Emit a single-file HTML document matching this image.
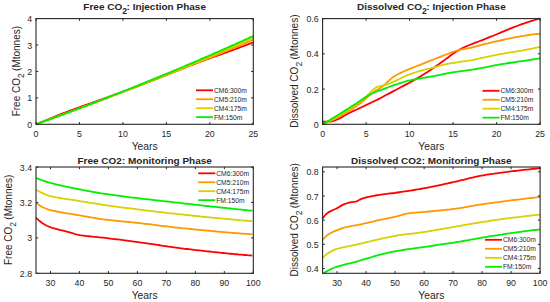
<!DOCTYPE html>
<html><head><meta charset="utf-8"><style>
html,body{margin:0;padding:0;background:#fff;width:550px;height:302px;overflow:hidden}
svg{display:block}
text{font-family:"Liberation Sans",sans-serif;fill:#262626}
</style></head><body>
<svg width="550" height="302" viewBox="0 0 550 302">
<rect width="550" height="302" fill="#fff"/>
<clipPath id="c0"><rect x="36" y="17.6" width="218.3" height="107.69999999999999"/></clipPath>
<g clip-path="url(#c0)" fill="none" stroke-width="1.8" stroke-linejoin="round" stroke-linecap="butt">
<path d="M36.00,124.30 L37.83,123.52 L39.65,122.75 L41.48,121.98 L43.30,121.22 L45.13,120.46 L46.96,119.71 L48.78,118.96 L50.61,118.22 L52.43,117.48 L54.26,116.75 L56.09,116.02 L57.91,115.30 L59.74,114.59 L61.56,113.88 L63.39,113.17 L65.22,112.47 L67.04,111.78 L68.87,111.09 L70.69,110.42 L72.52,109.75 L74.35,109.08 L76.17,108.43 L78.00,107.77 L79.83,107.12 L81.65,106.47 L83.48,105.82 L85.30,105.17 L87.13,104.53 L88.96,103.88 L90.78,103.23 L92.61,102.57 L94.43,101.92 L96.26,101.26 L98.09,100.60 L99.91,99.94 L101.74,99.29 L103.56,98.63 L105.39,97.98 L107.22,97.33 L109.04,96.68 L110.87,96.02 L112.69,95.37 L114.52,94.72 L116.35,94.06 L118.17,93.41 L120.00,92.75 L121.82,92.09 L123.65,91.43 L125.48,90.77 L127.30,90.10 L129.13,89.43 L130.95,88.76 L132.78,88.09 L134.61,87.41 L136.43,86.72 L138.26,86.04 L140.08,85.34 L141.91,84.64 L143.74,83.93 L145.56,83.22 L147.39,82.51 L149.22,81.79 L151.04,81.07 L152.87,80.35 L154.69,79.62 L156.52,78.90 L158.35,78.18 L160.17,77.45 L162.00,76.73 L163.82,76.02 L165.65,75.30 L167.48,74.59 L169.30,73.88 L171.13,73.16 L172.95,72.45 L174.78,71.73 L176.61,71.01 L178.43,70.29 L180.26,69.57 L182.08,68.86 L183.91,68.14 L185.74,67.42 L187.56,66.71 L189.39,65.99 L191.21,65.28 L193.04,64.57 L194.87,63.87 L196.69,63.16 L198.52,62.47 L200.34,61.77 L202.17,61.08 L204.00,60.39 L205.82,59.71 L207.65,59.04 L209.47,58.37 L211.30,57.71 L213.13,57.07 L214.95,56.43 L216.78,55.80 L218.61,55.18 L220.43,54.55 L222.26,53.91 L224.08,53.27 L225.91,52.61 L227.74,51.95 L229.56,51.28 L231.39,50.61 L233.21,49.93 L235.04,49.26 L236.87,48.58 L238.69,47.89 L240.52,47.20 L242.34,46.51 L244.17,45.81 L246.00,45.11 L247.82,44.40 L249.65,43.69 L251.47,42.97 L253.30,42.25" stroke="#ff0000"/>
<path d="M36.00,124.30 L37.83,123.64 L39.65,122.99 L41.48,122.33 L43.30,121.67 L45.13,121.01 L46.96,120.35 L48.78,119.69 L50.61,119.03 L52.43,118.37 L54.26,117.70 L56.09,117.04 L57.91,116.37 L59.74,115.71 L61.56,115.04 L63.39,114.37 L65.22,113.70 L67.04,113.03 L68.87,112.36 L70.69,111.69 L72.52,111.01 L74.35,110.34 L76.17,109.66 L78.00,108.99 L79.83,108.31 L81.65,107.63 L83.48,106.95 L85.30,106.27 L87.13,105.59 L88.96,104.91 L90.78,104.23 L92.61,103.54 L94.43,102.86 L96.26,102.17 L98.09,101.49 L99.91,100.80 L101.74,100.11 L103.56,99.42 L105.39,98.73 L107.22,98.04 L109.04,97.35 L110.87,96.66 L112.69,95.96 L114.52,95.27 L116.35,94.57 L118.17,93.88 L120.00,93.18 L121.82,92.48 L123.65,91.78 L125.48,91.08 L127.30,90.38 L129.13,89.68 L130.95,88.97 L132.78,88.27 L134.61,87.57 L136.43,86.86 L138.26,86.15 L140.08,85.45 L141.91,84.74 L143.74,84.03 L145.56,83.32 L147.39,82.60 L149.22,81.89 L151.04,81.18 L152.87,80.46 L154.69,79.75 L156.52,79.03 L158.35,78.32 L160.17,77.60 L162.00,76.88 L163.82,76.16 L165.65,75.44 L167.48,74.72 L169.30,73.99 L171.13,73.27 L172.95,72.55 L174.78,71.82 L176.61,71.09 L178.43,70.37 L180.26,69.64 L182.08,68.91 L183.91,68.18 L185.74,67.45 L187.56,66.72 L189.39,65.98 L191.21,65.25 L193.04,64.51 L194.87,63.78 L196.69,63.04 L198.52,62.30 L200.34,61.56 L202.17,60.83 L204.00,60.08 L205.82,59.34 L207.65,58.60 L209.47,57.86 L211.30,57.11 L213.13,56.37 L214.95,55.62 L216.78,54.88 L218.61,54.13 L220.43,53.38 L222.26,52.63 L224.08,51.88 L225.91,51.13 L227.74,50.37 L229.56,49.62 L231.39,48.87 L233.21,48.11 L235.04,47.35 L236.87,46.60 L238.69,45.84 L240.52,45.08 L242.34,44.32 L244.17,43.56 L246.00,42.80 L247.82,42.03 L249.65,41.27 L251.47,40.51 L253.30,39.74" stroke="#ff9900"/>
<path d="M36.00,124.30 L37.83,123.64 L39.65,122.99 L41.48,122.33 L43.30,121.67 L45.13,121.01 L46.96,120.35 L48.78,119.69 L50.61,119.02 L52.43,118.36 L54.26,117.69 L56.09,117.02 L57.91,116.35 L59.74,115.68 L61.56,115.01 L63.39,114.34 L65.22,113.67 L67.04,112.99 L68.87,112.32 L70.69,111.64 L72.52,110.96 L74.35,110.28 L76.17,109.60 L78.00,108.92 L79.83,108.23 L81.65,107.55 L83.48,106.86 L85.30,106.18 L87.13,105.49 L88.96,104.80 L90.78,104.11 L92.61,103.42 L94.43,102.73 L96.26,102.03 L98.09,101.34 L99.91,100.64 L101.74,99.94 L103.56,99.24 L105.39,98.54 L107.22,97.84 L109.04,97.14 L110.87,96.44 L112.69,95.73 L114.52,95.03 L116.35,94.32 L118.17,93.61 L120.00,92.90 L121.82,92.19 L123.65,91.48 L125.48,90.77 L127.30,90.05 L129.13,89.34 L130.95,88.62 L132.78,87.90 L134.61,87.18 L136.43,86.46 L138.26,85.74 L140.08,85.02 L141.91,84.30 L143.74,83.57 L145.56,82.85 L147.39,82.12 L149.22,81.39 L151.04,80.66 L152.87,79.93 L154.69,79.20 L156.52,78.46 L158.35,77.73 L160.17,76.99 L162.00,76.26 L163.82,75.52 L165.65,74.78 L167.48,74.04 L169.30,73.30 L171.13,72.55 L172.95,71.81 L174.78,71.07 L176.61,70.32 L178.43,69.57 L180.26,68.82 L182.08,68.07 L183.91,67.32 L185.74,66.57 L187.56,65.82 L189.39,65.06 L191.21,64.30 L193.04,63.55 L194.87,62.79 L196.69,62.03 L198.52,61.27 L200.34,60.51 L202.17,59.74 L204.00,58.98 L205.82,58.21 L207.65,57.45 L209.47,56.68 L211.30,55.91 L213.13,55.14 L214.95,54.37 L216.78,53.60 L218.61,52.82 L220.43,52.05 L222.26,51.27 L224.08,50.49 L225.91,49.71 L227.74,48.93 L229.56,48.15 L231.39,47.37 L233.21,46.59 L235.04,45.80 L236.87,45.02 L238.69,44.23 L240.52,43.44 L242.34,42.65 L244.17,41.86 L246.00,41.07 L247.82,40.28 L249.65,39.48 L251.47,38.69 L253.30,37.89" stroke="#d9d000"/>
<path d="M36.00,124.30 L37.83,123.64 L39.65,122.99 L41.48,122.33 L43.30,121.67 L45.13,121.01 L46.96,120.34 L48.78,119.68 L50.61,119.01 L52.43,118.35 L54.26,117.68 L56.09,117.01 L57.91,116.33 L59.74,115.66 L61.56,114.99 L63.39,114.31 L65.22,113.63 L67.04,112.95 L68.87,112.27 L70.69,111.59 L72.52,110.91 L74.35,110.22 L76.17,109.54 L78.00,108.85 L79.83,108.16 L81.65,107.47 L83.48,106.78 L85.30,106.08 L87.13,105.39 L88.96,104.69 L90.78,103.99 L92.61,103.29 L94.43,102.59 L96.26,101.89 L98.09,101.19 L99.91,100.48 L101.74,99.77 L103.56,99.07 L105.39,98.36 L107.22,97.65 L109.04,96.93 L110.87,96.22 L112.69,95.50 L114.52,94.79 L116.35,94.07 L118.17,93.35 L120.00,92.63 L121.82,91.90 L123.65,91.18 L125.48,90.45 L127.30,89.73 L129.13,89.00 L130.95,88.27 L132.78,87.54 L134.61,86.80 L136.43,86.07 L138.26,85.33 L140.08,84.60 L141.91,83.86 L143.74,83.12 L145.56,82.38 L147.39,81.63 L149.22,80.89 L151.04,80.14 L152.87,79.39 L154.69,78.65 L156.52,77.90 L158.35,77.14 L160.17,76.39 L162.00,75.64 L163.82,74.88 L165.65,74.12 L167.48,73.36 L169.30,72.60 L171.13,71.84 L172.95,71.08 L174.78,70.31 L176.61,69.54 L178.43,68.78 L180.26,68.01 L182.08,67.24 L183.91,66.46 L185.74,65.69 L187.56,64.92 L189.39,64.14 L191.21,63.36 L193.04,62.58 L194.87,61.80 L196.69,61.02 L198.52,60.23 L200.34,59.45 L202.17,58.66 L204.00,57.87 L205.82,57.08 L207.65,56.29 L209.47,55.50 L211.30,54.71 L213.13,53.91 L214.95,53.11 L216.78,52.31 L218.61,51.52 L220.43,50.71 L222.26,49.91 L224.08,49.11 L225.91,48.30 L227.74,47.49 L229.56,46.69 L231.39,45.88 L233.21,45.06 L235.04,44.25 L236.87,43.44 L238.69,42.62 L240.52,41.80 L242.34,40.98 L244.17,40.16 L246.00,39.34 L247.82,38.52 L249.65,37.69 L251.47,36.87 L253.30,36.04" stroke="#00ee00"/>
</g>
<rect x="36" y="18.6" width="217.3" height="105.69999999999999" fill="none" stroke="#262626" stroke-width="1.1"/>
<text x="36.00" y="136.5" text-anchor="middle" font-size="8.8">0</text>
<text x="79.46" y="136.5" text-anchor="middle" font-size="8.8">5</text>
<text x="122.92" y="136.5" text-anchor="middle" font-size="8.8">10</text>
<text x="166.38" y="136.5" text-anchor="middle" font-size="8.8">15</text>
<text x="209.84" y="136.5" text-anchor="middle" font-size="8.8">20</text>
<text x="253.30" y="136.5" text-anchor="middle" font-size="8.8">25</text>
<text x="32.1" y="127.90" text-anchor="end" font-size="8.8">0</text>
<text x="32.1" y="101.47" text-anchor="end" font-size="8.8">1</text>
<text x="32.1" y="75.05" text-anchor="end" font-size="8.8">2</text>
<text x="32.1" y="48.63" text-anchor="end" font-size="8.8">3</text>
<text x="32.1" y="22.20" text-anchor="end" font-size="8.8">4</text>
<path d="M36.00,124.3 v-2.2 M36.00,18.6 v2.2 M79.46,124.3 v-2.2 M79.46,18.6 v2.2 M122.92,124.3 v-2.2 M122.92,18.6 v2.2 M166.38,124.3 v-2.2 M166.38,18.6 v2.2 M209.84,124.3 v-2.2 M209.84,18.6 v2.2 M253.30,124.3 v-2.2 M253.30,18.6 v2.2 M36,124.30 h2.2 M253.3,124.30 h-2.2 M36,97.88 h2.2 M253.3,97.88 h-2.2 M36,71.45 h2.2 M253.3,71.45 h-2.2 M36,45.03 h2.2 M253.3,45.03 h-2.2 M36,18.60 h2.2 M253.3,18.60 h-2.2" stroke="#262626" stroke-width="1" fill="none"/>
<text x="144.65" y="149.9" text-anchor="middle" font-size="10.3">Years</text>
<text transform="translate(19.8,71.15) rotate(-90)" x="0" y="0" text-anchor="middle" font-size="10.0">Free CO<tspan font-size="8.6" dy="4.5">2</tspan><tspan dy="-4.5" dx="-0.5"> (Mtonnes)</tspan></text>
<text transform="translate(144.65,10.10) scale(1,0.97)" x="0" y="0" text-anchor="middle" font-size="10.0" font-weight="bold" fill="#000">Free CO<tspan font-size="8.6" dy="4.5">2</tspan><tspan dy="-4.5" dx="-0.5">: Injection Phase</tspan></text>
<path d="M196,90.30 h17" stroke="#ff0000" stroke-width="1.8"/>
<text x="213.9" y="92.80" font-size="6.75">CM6:300m</text>
<path d="M196,99.25 h17" stroke="#ff9900" stroke-width="1.8"/>
<text x="213.9" y="101.75" font-size="6.75">CM5:210m</text>
<path d="M196,108.20 h17" stroke="#d9d000" stroke-width="1.8"/>
<text x="213.9" y="110.70" font-size="6.75">CM4:175m</text>
<path d="M196,117.15 h17" stroke="#00ee00" stroke-width="1.8"/>
<text x="213.9" y="119.65" font-size="6.75">FM:150m</text>
<clipPath id="c1"><rect x="322.6" y="17.6" width="218.5" height="107.69999999999999"/></clipPath>
<g clip-path="url(#c1)" fill="none" stroke-width="1.8" stroke-linejoin="round" stroke-linecap="butt">
<path d="M322.60,121.75 L324.43,121.75 L326.26,121.75 L328.08,121.75 L329.91,121.67 L331.74,121.38 L333.57,120.91 L335.39,120.27 L337.22,119.50 L339.05,118.62 L340.88,117.65 L342.71,116.64 L344.53,115.59 L346.36,114.55 L348.19,113.53 L350.02,112.57 L351.84,111.69 L353.67,110.86 L355.50,110.03 L357.33,109.20 L359.15,108.36 L360.98,107.51 L362.81,106.65 L364.64,105.79 L366.47,104.93 L368.29,104.05 L370.12,103.17 L371.95,102.29 L373.78,101.39 L375.60,100.49 L377.43,99.58 L379.26,98.66 L381.09,97.72 L382.92,96.77 L384.74,95.81 L386.57,94.83 L388.40,93.86 L390.23,92.87 L392.05,91.89 L393.88,90.91 L395.71,89.93 L397.54,88.96 L399.36,88.00 L401.19,87.04 L403.02,86.08 L404.85,85.12 L406.68,84.15 L408.50,83.17 L410.33,82.17 L412.16,81.16 L413.99,80.13 L415.81,79.08 L417.64,78.01 L419.47,76.92 L421.30,75.82 L423.13,74.70 L424.95,73.56 L426.78,72.41 L428.61,71.23 L430.44,70.04 L432.26,68.83 L434.09,67.60 L435.92,66.31 L437.75,65.00 L439.57,63.65 L441.40,62.30 L443.23,60.95 L445.06,59.62 L446.89,58.29 L448.71,56.93 L450.54,55.58 L452.37,54.25 L454.20,52.99 L456.02,51.81 L457.85,50.70 L459.68,49.64 L461.51,48.64 L463.34,47.69 L465.16,46.80 L466.99,45.99 L468.82,45.24 L470.65,44.52 L472.47,43.81 L474.30,43.10 L476.13,42.40 L477.96,41.72 L479.78,41.02 L481.61,40.32 L483.44,39.61 L485.27,38.89 L487.10,38.17 L488.92,37.44 L490.75,36.71 L492.58,35.98 L494.41,35.24 L496.23,34.49 L498.06,33.72 L499.89,32.95 L501.72,32.18 L503.55,31.40 L505.37,30.64 L507.20,29.88 L509.03,29.14 L510.86,28.40 L512.68,27.66 L514.51,26.94 L516.34,26.22 L518.17,25.53 L519.99,24.86 L521.82,24.22 L523.65,23.58 L525.48,22.96 L527.31,22.34 L529.13,21.74 L530.96,21.15 L532.79,20.57 L534.62,20.01 L536.44,19.47 L538.27,18.94 L540.10,18.42" stroke="#ff0000"/>
<path d="M322.60,124.30 L324.43,123.59 L326.26,122.84 L328.08,122.05 L329.91,121.22 L331.74,120.36 L333.57,119.47 L335.39,118.54 L337.22,117.59 L339.05,116.61 L340.88,115.61 L342.71,114.58 L344.53,113.53 L346.36,112.46 L348.19,111.38 L350.02,110.28 L351.84,109.16 L353.67,108.01 L355.50,106.79 L357.33,105.51 L359.15,104.18 L360.98,102.79 L362.81,101.35 L364.64,99.77 L366.47,98.09 L368.29,96.41 L370.12,94.80 L371.95,93.34 L373.78,92.03 L375.60,90.81 L377.43,89.64 L379.26,88.47 L381.09,87.26 L382.92,85.98 L384.74,84.57 L386.57,82.91 L388.40,81.09 L390.23,79.34 L392.05,77.89 L393.88,76.60 L395.71,75.46 L397.54,74.43 L399.36,73.49 L401.19,72.61 L403.02,71.78 L404.85,70.99 L406.68,70.20 L408.50,69.42 L410.33,68.66 L412.16,67.92 L413.99,67.19 L415.81,66.48 L417.64,65.78 L419.47,65.07 L421.30,64.35 L423.13,63.62 L424.95,62.89 L426.78,62.16 L428.61,61.43 L430.44,60.70 L432.26,59.97 L434.09,59.25 L435.92,58.52 L437.75,57.80 L439.57,57.08 L441.40,56.37 L443.23,55.66 L445.06,54.97 L446.89,54.28 L448.71,53.56 L450.54,52.84 L452.37,52.15 L454.20,51.48 L456.02,50.87 L457.85,50.33 L459.68,49.87 L461.51,49.47 L463.34,49.12 L465.16,48.80 L466.99,48.48 L468.82,48.15 L470.65,47.80 L472.47,47.40 L474.30,46.94 L476.13,46.45 L477.96,45.94 L479.78,45.43 L481.61,44.94 L483.44,44.47 L485.27,43.99 L487.10,43.52 L488.92,43.05 L490.75,42.60 L492.58,42.15 L494.41,41.72 L496.23,41.31 L498.06,40.91 L499.89,40.51 L501.72,40.13 L503.55,39.75 L505.37,39.37 L507.20,38.99 L509.03,38.60 L510.86,38.22 L512.68,37.84 L514.51,37.46 L516.34,37.10 L518.17,36.76 L519.99,36.44 L521.82,36.13 L523.65,35.84 L525.48,35.55 L527.31,35.26 L529.13,34.99 L530.96,34.73 L532.79,34.47 L534.62,34.23 L536.44,34.00 L538.27,33.78 L540.10,33.57" stroke="#ff9900"/>
<path d="M322.60,124.30 L324.43,123.44 L326.26,122.55 L328.08,121.63 L329.91,120.68 L331.74,119.70 L333.57,118.68 L335.39,117.65 L337.22,116.58 L339.05,115.49 L340.88,114.38 L342.71,113.25 L344.53,112.10 L346.36,110.93 L348.19,109.74 L350.02,108.54 L351.84,107.32 L353.67,106.07 L355.50,104.75 L357.33,103.39 L359.15,101.98 L360.98,100.54 L362.81,99.09 L364.64,97.63 L366.47,96.17 L368.29,94.53 L370.12,92.74 L371.95,90.93 L373.78,89.25 L375.60,87.83 L377.43,86.82 L379.26,86.26 L381.09,85.90 L382.92,85.58 L384.74,85.16 L386.57,84.59 L388.40,83.90 L390.23,83.13 L392.05,82.31 L393.88,81.47 L395.71,80.63 L397.54,79.82 L399.36,78.95 L401.19,78.05 L403.02,77.15 L404.85,76.27 L406.68,75.45 L408.50,74.72 L410.33,74.05 L412.16,73.42 L413.99,72.82 L415.81,72.25 L417.64,71.70 L419.47,71.17 L421.30,70.66 L423.13,70.16 L424.95,69.68 L426.78,69.23 L428.61,68.79 L430.44,68.35 L432.26,67.90 L434.09,67.42 L435.92,66.92 L437.75,66.39 L439.57,65.87 L441.40,65.35 L443.23,64.87 L445.06,64.45 L446.89,64.07 L448.71,63.73 L450.54,63.40 L452.37,63.09 L454.20,62.80 L456.02,62.51 L457.85,62.23 L459.68,61.95 L461.51,61.69 L463.34,61.44 L465.16,61.20 L466.99,60.96 L468.82,60.70 L470.65,60.42 L472.47,60.10 L474.30,59.72 L476.13,59.30 L477.96,58.85 L479.78,58.40 L481.61,57.99 L483.44,57.60 L485.27,57.20 L487.10,56.81 L488.92,56.43 L490.75,56.05 L492.58,55.67 L494.41,55.30 L496.23,54.94 L498.06,54.58 L499.89,54.24 L501.72,53.90 L503.55,53.57 L505.37,53.26 L507.20,52.96 L509.03,52.67 L510.86,52.39 L512.68,52.10 L514.51,51.81 L516.34,51.52 L518.17,51.21 L519.99,50.89 L521.82,50.55 L523.65,50.21 L525.48,49.86 L527.31,49.50 L529.13,49.13 L530.96,48.76 L532.79,48.38 L534.62,47.99 L536.44,47.60 L538.27,47.19 L540.10,46.79" stroke="#d9d000"/>
<path d="M322.60,124.30 L324.43,123.21 L326.26,122.11 L328.08,121.01 L329.91,119.90 L331.74,118.79 L333.57,117.67 L335.39,116.55 L337.22,115.42 L339.05,114.29 L340.88,113.15 L342.71,112.01 L344.53,110.87 L346.36,109.72 L348.19,108.57 L350.02,107.42 L351.84,106.26 L353.67,105.08 L355.50,103.88 L357.33,102.66 L359.15,101.44 L360.98,100.21 L362.81,99.00 L364.64,97.81 L366.47,96.65 L368.29,95.53 L370.12,94.46 L371.95,93.53 L373.78,92.72 L375.60,91.98 L377.43,91.28 L379.26,90.61 L381.09,89.95 L382.92,89.29 L384.74,88.60 L386.57,87.90 L388.40,87.22 L390.23,86.53 L392.05,85.87 L393.88,85.22 L395.71,84.59 L397.54,83.99 L399.36,83.39 L401.19,82.80 L403.02,82.24 L404.85,81.70 L406.68,81.19 L408.50,80.74 L410.33,80.32 L412.16,79.93 L413.99,79.56 L415.81,79.21 L417.64,78.87 L419.47,78.53 L421.30,78.20 L423.13,77.87 L424.95,77.56 L426.78,77.25 L428.61,76.96 L430.44,76.66 L432.26,76.35 L434.09,76.03 L435.92,75.70 L437.75,75.35 L439.57,74.97 L441.40,74.59 L443.23,74.21 L445.06,73.82 L446.89,73.45 L448.71,73.09 L450.54,72.75 L452.37,72.44 L454.20,72.15 L456.02,71.89 L457.85,71.63 L459.68,71.39 L461.51,71.15 L463.34,70.91 L465.16,70.67 L466.99,70.43 L468.82,70.18 L470.65,69.91 L472.47,69.62 L474.30,69.32 L476.13,69.00 L477.96,68.67 L479.78,68.33 L481.61,67.99 L483.44,67.64 L485.27,67.28 L487.10,66.92 L488.92,66.55 L490.75,66.18 L492.58,65.81 L494.41,65.45 L496.23,65.10 L498.06,64.76 L499.89,64.43 L501.72,64.11 L503.55,63.81 L505.37,63.53 L507.20,63.26 L509.03,63.00 L510.86,62.75 L512.68,62.49 L514.51,62.24 L516.34,61.98 L518.17,61.72 L519.99,61.45 L521.82,61.17 L523.65,60.89 L525.48,60.60 L527.31,60.32 L529.13,60.03 L530.96,59.74 L532.79,59.44 L534.62,59.14 L536.44,58.84 L538.27,58.54 L540.10,58.24" stroke="#00ee00"/>
</g>
<rect x="322.6" y="18.6" width="217.5" height="105.69999999999999" fill="none" stroke="#262626" stroke-width="1.1"/>
<text x="322.60" y="136.5" text-anchor="middle" font-size="8.8">0</text>
<text x="366.10" y="136.5" text-anchor="middle" font-size="8.8">5</text>
<text x="409.60" y="136.5" text-anchor="middle" font-size="8.8">10</text>
<text x="453.10" y="136.5" text-anchor="middle" font-size="8.8">15</text>
<text x="496.60" y="136.5" text-anchor="middle" font-size="8.8">20</text>
<text x="540.10" y="136.5" text-anchor="middle" font-size="8.8">25</text>
<text x="318.70000000000005" y="127.90" text-anchor="end" font-size="8.8">0</text>
<text x="318.70000000000005" y="92.67" text-anchor="end" font-size="8.8">0.2</text>
<text x="318.70000000000005" y="57.43" text-anchor="end" font-size="8.8">0.4</text>
<text x="318.70000000000005" y="22.20" text-anchor="end" font-size="8.8">0.6</text>
<path d="M322.60,124.3 v-2.2 M322.60,18.6 v2.2 M366.10,124.3 v-2.2 M366.10,18.6 v2.2 M409.60,124.3 v-2.2 M409.60,18.6 v2.2 M453.10,124.3 v-2.2 M453.10,18.6 v2.2 M496.60,124.3 v-2.2 M496.60,18.6 v2.2 M540.10,124.3 v-2.2 M540.10,18.6 v2.2 M322.6,124.30 h2.2 M540.1,124.30 h-2.2 M322.6,89.07 h2.2 M540.1,89.07 h-2.2 M322.6,53.83 h2.2 M540.1,53.83 h-2.2 M322.6,18.60 h2.2 M540.1,18.60 h-2.2" stroke="#262626" stroke-width="1" fill="none"/>
<text x="431.35" y="149.9" text-anchor="middle" font-size="10.3">Years</text>
<text transform="translate(297.6,71.15) rotate(-90)" x="0" y="0" text-anchor="middle" font-size="10.0">Dissolved CO<tspan font-size="8.6" dy="4.5">2</tspan><tspan dy="-4.5" dx="-0.5"> (Mtonnes)</tspan></text>
<text transform="translate(431.35,10.10) scale(1,0.97)" x="0" y="0" text-anchor="middle" font-size="10.0" font-weight="bold" fill="#000">Dissolved CO<tspan font-size="8.6" dy="4.5">2</tspan><tspan dy="-4.5" dx="-0.5">: Injection Phase</tspan></text>
<path d="M482.5,90.80 h17" stroke="#ff0000" stroke-width="1.8"/>
<text x="500.4" y="93.30" font-size="6.75">CM6:300m</text>
<path d="M482.5,99.75 h17" stroke="#ff9900" stroke-width="1.8"/>
<text x="500.4" y="102.25" font-size="6.75">CM5:210m</text>
<path d="M482.5,108.70 h17" stroke="#d9d000" stroke-width="1.8"/>
<text x="500.4" y="111.20" font-size="6.75">CM4:175m</text>
<path d="M482.5,117.65 h17" stroke="#00ee00" stroke-width="1.8"/>
<text x="500.4" y="120.15" font-size="6.75">FM:150m</text>
<clipPath id="c2"><rect x="36" y="166.0" width="218.3" height="108.30000000000001"/></clipPath>
<g clip-path="url(#c2)" fill="none" stroke-width="1.8" stroke-linejoin="round" stroke-linecap="butt">
<path d="M36.00,217.67 L37.82,219.44 L39.64,221.06 L41.45,222.50 L43.27,223.71 L45.09,224.77 L46.91,225.72 L48.72,226.55 L50.54,227.26 L52.36,227.87 L54.18,228.43 L56.00,228.93 L57.81,229.40 L59.63,229.84 L61.45,230.27 L63.27,230.69 L65.08,231.13 L66.90,231.59 L68.72,232.08 L70.54,232.62 L72.36,233.18 L74.17,233.74 L75.99,234.26 L77.81,234.71 L79.63,235.06 L81.44,235.35 L83.26,235.61 L85.08,235.84 L86.90,236.06 L88.72,236.26 L90.53,236.44 L92.35,236.62 L94.17,236.79 L95.99,236.97 L97.80,237.14 L99.62,237.32 L101.44,237.52 L103.26,237.73 L105.08,237.94 L106.89,238.16 L108.71,238.38 L110.53,238.60 L112.35,238.82 L114.16,239.04 L115.98,239.26 L117.80,239.48 L119.62,239.71 L121.44,239.93 L123.25,240.16 L125.07,240.39 L126.89,240.62 L128.71,240.85 L130.52,241.08 L132.34,241.32 L134.16,241.56 L135.98,241.80 L137.80,242.04 L139.61,242.28 L141.43,242.53 L143.25,242.78 L145.07,243.04 L146.88,243.31 L148.70,243.58 L150.52,243.85 L152.34,244.13 L154.16,244.41 L155.97,244.69 L157.79,244.97 L159.61,245.25 L161.43,245.53 L163.24,245.81 L165.06,246.08 L166.88,246.36 L168.70,246.62 L170.52,246.89 L172.33,247.15 L174.15,247.40 L175.97,247.64 L177.79,247.88 L179.60,248.11 L181.42,248.33 L183.24,248.55 L185.06,248.77 L186.88,248.99 L188.69,249.21 L190.51,249.42 L192.33,249.64 L194.15,249.85 L195.96,250.06 L197.78,250.27 L199.60,250.48 L201.42,250.69 L203.24,250.89 L205.05,251.10 L206.87,251.30 L208.69,251.50 L210.51,251.70 L212.32,251.89 L214.14,252.09 L215.96,252.28 L217.78,252.47 L219.60,252.65 L221.41,252.84 L223.23,253.02 L225.05,253.20 L226.87,253.38 L228.68,253.55 L230.50,253.73 L232.32,253.90 L234.14,254.06 L235.95,254.23 L237.77,254.39 L239.59,254.55 L241.41,254.71 L243.23,254.86 L245.04,255.01 L246.86,255.16 L248.68,255.30 L250.50,255.45 L252.31,255.58" stroke="#ff0000"/>
<path d="M36.00,202.43 L37.82,204.10 L39.64,205.53 L41.45,206.58 L43.27,207.47 L45.09,208.26 L46.91,208.95 L48.72,209.55 L50.54,210.07 L52.36,210.53 L54.18,210.97 L56.00,211.38 L57.81,211.75 L59.63,212.11 L61.45,212.44 L63.27,212.76 L65.08,213.07 L66.90,213.36 L68.72,213.65 L70.54,213.93 L72.36,214.21 L74.17,214.50 L75.99,214.79 L77.81,215.08 L79.63,215.40 L81.44,215.71 L83.26,216.04 L85.08,216.36 L86.90,216.69 L88.72,217.01 L90.53,217.33 L92.35,217.64 L94.17,217.94 L95.99,218.24 L97.80,218.53 L99.62,218.80 L101.44,219.06 L103.26,219.31 L105.08,219.54 L106.89,219.76 L108.71,219.98 L110.53,220.18 L112.35,220.38 L114.16,220.58 L115.98,220.77 L117.80,220.95 L119.62,221.13 L121.44,221.31 L123.25,221.49 L125.07,221.67 L126.89,221.84 L128.71,222.02 L130.52,222.20 L132.34,222.38 L134.16,222.57 L135.98,222.76 L137.80,222.95 L139.61,223.15 L141.43,223.36 L143.25,223.57 L145.07,223.78 L146.88,224.00 L148.70,224.22 L150.52,224.44 L152.34,224.67 L154.16,224.89 L155.97,225.12 L157.79,225.35 L159.61,225.58 L161.43,225.80 L163.24,226.03 L165.06,226.25 L166.88,226.47 L168.70,226.69 L170.52,226.91 L172.33,227.12 L174.15,227.33 L175.97,227.53 L177.79,227.73 L179.60,227.92 L181.42,228.10 L183.24,228.29 L185.06,228.47 L186.88,228.66 L188.69,228.84 L190.51,229.02 L192.33,229.20 L194.15,229.38 L195.96,229.56 L197.78,229.74 L199.60,229.91 L201.42,230.09 L203.24,230.26 L205.05,230.43 L206.87,230.60 L208.69,230.77 L210.51,230.94 L212.32,231.11 L214.14,231.27 L215.96,231.44 L217.78,231.60 L219.60,231.76 L221.41,231.92 L223.23,232.07 L225.05,232.23 L226.87,232.38 L228.68,232.53 L230.50,232.68 L232.32,232.83 L234.14,232.98 L235.95,233.12 L237.77,233.26 L239.59,233.40 L241.41,233.54 L243.23,233.68 L245.04,233.81 L246.86,233.94 L248.68,234.07 L250.50,234.20 L252.31,234.32" stroke="#ff9900"/>
<path d="M36.00,189.85 L37.82,190.79 L39.64,191.70 L41.45,192.59 L43.27,193.43 L45.09,194.22 L46.91,194.93 L48.72,195.55 L50.54,196.07 L52.36,196.52 L54.18,196.93 L56.00,197.31 L57.81,197.67 L59.63,198.00 L61.45,198.31 L63.27,198.61 L65.08,198.89 L66.90,199.16 L68.72,199.42 L70.54,199.68 L72.36,199.94 L74.17,200.20 L75.99,200.47 L77.81,200.75 L79.63,201.04 L81.44,201.34 L83.26,201.64 L85.08,201.94 L86.90,202.24 L88.72,202.54 L90.53,202.83 L92.35,203.13 L94.17,203.42 L95.99,203.70 L97.80,203.98 L99.62,204.25 L101.44,204.52 L103.26,204.78 L105.08,205.04 L106.89,205.30 L108.71,205.55 L110.53,205.80 L112.35,206.06 L114.16,206.30 L115.98,206.55 L117.80,206.80 L119.62,207.04 L121.44,207.29 L123.25,207.53 L125.07,207.77 L126.89,208.01 L128.71,208.24 L130.52,208.48 L132.34,208.71 L134.16,208.94 L135.98,209.17 L137.80,209.40 L139.61,209.63 L141.43,209.86 L143.25,210.08 L145.07,210.30 L146.88,210.53 L148.70,210.75 L150.52,210.96 L152.34,211.18 L154.16,211.40 L155.97,211.61 L157.79,211.82 L159.61,212.04 L161.43,212.25 L163.24,212.45 L165.06,212.66 L166.88,212.87 L168.70,213.07 L170.52,213.28 L172.33,213.48 L174.15,213.68 L175.97,213.88 L177.79,214.08 L179.60,214.27 L181.42,214.47 L183.24,214.66 L185.06,214.86 L186.88,215.05 L188.69,215.24 L190.51,215.43 L192.33,215.62 L194.15,215.81 L195.96,216.00 L197.78,216.18 L199.60,216.37 L201.42,216.55 L203.24,216.74 L205.05,216.92 L206.87,217.10 L208.69,217.28 L210.51,217.46 L212.32,217.63 L214.14,217.81 L215.96,217.98 L217.78,218.16 L219.60,218.33 L221.41,218.50 L223.23,218.67 L225.05,218.84 L226.87,219.01 L228.68,219.17 L230.50,219.34 L232.32,219.50 L234.14,219.66 L235.95,219.83 L237.77,219.99 L239.59,220.14 L241.41,220.30 L243.23,220.46 L245.04,220.61 L246.86,220.76 L248.68,220.91 L250.50,221.06 L252.31,221.21" stroke="#d9d000"/>
<path d="M36.00,177.98 L37.82,178.68 L39.64,179.36 L41.45,180.02 L43.27,180.67 L45.09,181.29 L46.91,181.88 L48.72,182.44 L50.54,182.96 L52.36,183.45 L54.18,183.92 L56.00,184.37 L57.81,184.81 L59.63,185.23 L61.45,185.65 L63.27,186.05 L65.08,186.43 L66.90,186.82 L68.72,187.19 L70.54,187.56 L72.36,187.92 L74.17,188.28 L75.99,188.64 L77.81,189.00 L79.63,189.36 L81.44,189.72 L83.26,190.07 L85.08,190.43 L86.90,190.78 L88.72,191.12 L90.53,191.46 L92.35,191.80 L94.17,192.13 L95.99,192.45 L97.80,192.76 L99.62,193.06 L101.44,193.35 L103.26,193.62 L105.08,193.90 L106.89,194.16 L108.71,194.43 L110.53,194.69 L112.35,194.94 L114.16,195.19 L115.98,195.44 L117.80,195.69 L119.62,195.93 L121.44,196.17 L123.25,196.41 L125.07,196.64 L126.89,196.87 L128.71,197.10 L130.52,197.32 L132.34,197.54 L134.16,197.76 L135.98,197.98 L137.80,198.20 L139.61,198.41 L141.43,198.63 L143.25,198.84 L145.07,199.05 L146.88,199.26 L148.70,199.46 L150.52,199.67 L152.34,199.88 L154.16,200.08 L155.97,200.28 L157.79,200.49 L159.61,200.69 L161.43,200.89 L163.24,201.10 L165.06,201.30 L166.88,201.50 L168.70,201.70 L170.52,201.91 L172.33,202.11 L174.15,202.31 L175.97,202.52 L177.79,202.73 L179.60,202.93 L181.42,203.14 L183.24,203.35 L185.06,203.55 L186.88,203.76 L188.69,203.97 L190.51,204.17 L192.33,204.37 L194.15,204.58 L195.96,204.78 L197.78,204.98 L199.60,205.18 L201.42,205.38 L203.24,205.59 L205.05,205.79 L206.87,205.98 L208.69,206.18 L210.51,206.38 L212.32,206.58 L214.14,206.78 L215.96,206.97 L217.78,207.17 L219.60,207.36 L221.41,207.56 L223.23,207.75 L225.05,207.94 L226.87,208.13 L228.68,208.33 L230.50,208.52 L232.32,208.71 L234.14,208.90 L235.95,209.09 L237.77,209.28 L239.59,209.46 L241.41,209.65 L243.23,209.84 L245.04,210.02 L246.86,210.21 L248.68,210.39 L250.50,210.58 L252.31,210.76" stroke="#00ee00"/>
</g>
<rect x="36" y="167.0" width="217.3" height="106.30000000000001" fill="none" stroke="#262626" stroke-width="1.1"/>
<text x="50.49" y="285.5" text-anchor="middle" font-size="8.8">30</text>
<text x="79.46" y="285.5" text-anchor="middle" font-size="8.8">40</text>
<text x="108.43" y="285.5" text-anchor="middle" font-size="8.8">50</text>
<text x="137.41" y="285.5" text-anchor="middle" font-size="8.8">60</text>
<text x="166.38" y="285.5" text-anchor="middle" font-size="8.8">70</text>
<text x="195.35" y="285.5" text-anchor="middle" font-size="8.8">80</text>
<text x="224.33" y="285.5" text-anchor="middle" font-size="8.8">90</text>
<text x="253.30" y="285.5" text-anchor="middle" font-size="8.8">100</text>
<text x="32.1" y="276.90" text-anchor="end" font-size="8.8">2.8</text>
<text x="32.1" y="241.47" text-anchor="end" font-size="8.8">3</text>
<text x="32.1" y="206.03" text-anchor="end" font-size="8.8">3.2</text>
<text x="32.1" y="170.60" text-anchor="end" font-size="8.8">3.4</text>
<path d="M50.49,273.3 v-2.2 M50.49,167.0 v2.2 M79.46,273.3 v-2.2 M79.46,167.0 v2.2 M108.43,273.3 v-2.2 M108.43,167.0 v2.2 M137.41,273.3 v-2.2 M137.41,167.0 v2.2 M166.38,273.3 v-2.2 M166.38,167.0 v2.2 M195.35,273.3 v-2.2 M195.35,167.0 v2.2 M224.33,273.3 v-2.2 M224.33,167.0 v2.2 M253.30,273.3 v-2.2 M253.30,167.0 v2.2 M36,273.30 h2.2 M253.3,273.30 h-2.2 M36,237.87 h2.2 M253.3,237.87 h-2.2 M36,202.43 h2.2 M253.3,202.43 h-2.2 M36,167.00 h2.2 M253.3,167.00 h-2.2" stroke="#262626" stroke-width="1" fill="none"/>
<text x="144.65" y="298.90000000000003" text-anchor="middle" font-size="10.3">Years</text>
<text transform="translate(11.8,219.85) rotate(-90)" x="0" y="0" text-anchor="middle" font-size="10.0">Free CO<tspan font-size="8.6" dy="4.5">2</tspan><tspan dy="-4.5" dx="-0.5"> (Mtonnes)</tspan></text>
<text transform="translate(144.65,163.60) scale(1,0.97)" x="0" y="0" text-anchor="middle" font-size="10.0" font-weight="bold" fill="#000">Free CO2: Monitoring Phase</text>
<path d="M198.3,173.30 h17" stroke="#ff0000" stroke-width="1.8"/>
<text x="216.20000000000002" y="175.80" font-size="6.75">CM6:300m</text>
<path d="M198.3,182.25 h17" stroke="#ff9900" stroke-width="1.8"/>
<text x="216.20000000000002" y="184.75" font-size="6.75">CM5:210m</text>
<path d="M198.3,191.20 h17" stroke="#d9d000" stroke-width="1.8"/>
<text x="216.20000000000002" y="193.70" font-size="6.75">CM4:175m</text>
<path d="M198.3,200.15 h17" stroke="#00ee00" stroke-width="1.8"/>
<text x="216.20000000000002" y="202.65" font-size="6.75">FM:150m</text>
<clipPath id="c3"><rect x="322.6" y="166.0" width="218.5" height="108.30000000000001"/></clipPath>
<g clip-path="url(#c3)" fill="none" stroke-width="1.8" stroke-linejoin="round" stroke-linecap="butt">
<path d="M322.60,218.58 L324.43,216.00 L326.26,213.97 L328.08,212.62 L329.91,211.58 L331.74,210.65 L333.57,209.79 L335.39,208.99 L337.22,208.10 L339.05,207.02 L340.88,205.89 L342.71,204.90 L344.53,204.15 L346.36,203.50 L348.19,202.94 L350.02,202.48 L351.84,202.14 L353.67,201.87 L355.50,201.55 L357.33,201.03 L359.15,200.07 L360.98,199.09 L362.81,198.42 L364.64,197.85 L366.47,197.36 L368.29,196.92 L370.12,196.52 L371.95,196.15 L373.78,195.81 L375.60,195.49 L377.43,195.19 L379.26,194.90 L381.09,194.63 L382.92,194.37 L384.74,194.14 L386.57,193.91 L388.40,193.69 L390.23,193.48 L392.05,193.25 L393.88,193.02 L395.71,192.76 L397.54,192.51 L399.36,192.24 L401.19,191.98 L403.02,191.71 L404.85,191.43 L406.68,191.16 L408.50,190.87 L410.33,190.59 L412.16,190.29 L413.99,190.00 L415.81,189.70 L417.64,189.39 L419.47,189.08 L421.30,188.76 L423.13,188.43 L424.95,188.11 L426.78,187.77 L428.61,187.42 L430.44,187.06 L432.26,186.69 L434.09,186.32 L435.92,185.94 L437.75,185.55 L439.57,185.16 L441.40,184.77 L443.23,184.37 L445.06,183.97 L446.89,183.56 L448.71,183.16 L450.54,182.75 L452.37,182.35 L454.20,181.94 L456.02,181.54 L457.85,181.12 L459.68,180.69 L461.51,180.24 L463.34,179.79 L465.16,179.34 L466.99,178.88 L468.82,178.43 L470.65,177.98 L472.47,177.54 L474.30,177.11 L476.13,176.70 L477.96,176.31 L479.78,175.94 L481.61,175.59 L483.44,175.27 L485.27,174.97 L487.10,174.67 L488.92,174.38 L490.75,174.11 L492.58,173.84 L494.41,173.58 L496.23,173.32 L498.06,173.08 L499.89,172.83 L501.72,172.60 L503.55,172.36 L505.37,172.13 L507.20,171.90 L509.03,171.68 L510.86,171.45 L512.68,171.23 L514.51,171.00 L516.34,170.78 L518.17,170.56 L519.99,170.35 L521.82,170.14 L523.65,169.93 L525.48,169.73 L527.31,169.52 L529.13,169.33 L530.96,169.13 L532.79,168.94 L534.62,168.75 L536.44,168.57 L538.27,168.39 L540.10,168.21" stroke="#ff0000"/>
<path d="M322.60,239.72 L324.43,237.79 L326.26,236.05 L328.08,234.62 L329.91,233.49 L331.74,232.52 L333.57,231.66 L335.39,230.88 L337.22,230.13 L339.05,229.39 L340.88,228.69 L342.71,228.05 L344.53,227.50 L346.36,227.05 L348.19,226.65 L350.02,226.29 L351.84,225.96 L353.67,225.65 L355.50,225.34 L357.33,225.02 L359.15,224.67 L360.98,224.29 L362.81,223.90 L364.64,223.49 L366.47,223.06 L368.29,222.64 L370.12,222.20 L371.95,221.77 L373.78,221.33 L375.60,220.91 L377.43,220.49 L379.26,220.08 L381.09,219.68 L382.92,219.30 L384.74,218.93 L386.57,218.56 L388.40,218.20 L390.23,217.82 L392.05,217.44 L393.88,217.04 L395.71,216.62 L397.54,216.14 L399.36,215.60 L401.19,215.05 L403.02,214.52 L404.85,214.03 L406.68,213.63 L408.50,213.34 L410.33,213.11 L412.16,212.92 L413.99,212.75 L415.81,212.60 L417.64,212.46 L419.47,212.32 L421.30,212.18 L423.13,212.03 L424.95,211.86 L426.78,211.68 L428.61,211.51 L430.44,211.35 L432.26,211.18 L434.09,211.01 L435.92,210.84 L437.75,210.67 L439.57,210.49 L441.40,210.32 L443.23,210.13 L445.06,209.95 L446.89,209.75 L448.71,209.56 L450.54,209.35 L452.37,209.14 L454.20,208.91 L456.02,208.68 L457.85,208.42 L459.68,208.15 L461.51,207.85 L463.34,207.54 L465.16,207.22 L466.99,206.90 L468.82,206.56 L470.65,206.22 L472.47,205.89 L474.30,205.56 L476.13,205.23 L477.96,204.91 L479.78,204.61 L481.61,204.32 L483.44,204.05 L485.27,203.79 L487.10,203.53 L488.92,203.27 L490.75,203.02 L492.58,202.77 L494.41,202.53 L496.23,202.29 L498.06,202.06 L499.89,201.82 L501.72,201.59 L503.55,201.36 L505.37,201.13 L507.20,200.90 L509.03,200.67 L510.86,200.44 L512.68,200.21 L514.51,199.99 L516.34,199.76 L518.17,199.54 L519.99,199.31 L521.82,199.09 L523.65,198.87 L525.48,198.65 L527.31,198.44 L529.13,198.22 L530.96,198.01 L532.79,197.79 L534.62,197.58 L536.44,197.37 L538.27,197.16 L540.10,196.96" stroke="#ff9900"/>
<path d="M322.60,257.84 L324.43,256.11 L326.26,254.55 L328.08,253.21 L329.91,252.09 L331.74,251.07 L333.57,250.17 L335.39,249.39 L337.22,248.77 L339.05,248.25 L340.88,247.79 L342.71,247.38 L344.53,247.01 L346.36,246.66 L348.19,246.32 L350.02,245.97 L351.84,245.60 L353.67,245.20 L355.50,244.78 L357.33,244.36 L359.15,243.94 L360.98,243.51 L362.81,243.08 L364.64,242.65 L366.47,242.22 L368.29,241.78 L370.12,241.35 L371.95,240.91 L373.78,240.47 L375.60,240.03 L377.43,239.59 L379.26,239.17 L381.09,238.76 L382.92,238.34 L384.74,237.93 L386.57,237.53 L388.40,237.14 L390.23,236.76 L392.05,236.40 L393.88,236.06 L395.71,235.75 L397.54,235.46 L399.36,235.19 L401.19,234.93 L403.02,234.68 L404.85,234.45 L406.68,234.22 L408.50,233.99 L410.33,233.77 L412.16,233.55 L413.99,233.33 L415.81,233.11 L417.64,232.88 L419.47,232.64 L421.30,232.39 L423.13,232.13 L424.95,231.86 L426.78,231.58 L428.61,231.29 L430.44,230.99 L432.26,230.68 L434.09,230.37 L435.92,230.05 L437.75,229.74 L439.57,229.41 L441.40,229.09 L443.23,228.76 L445.06,228.44 L446.89,228.11 L448.71,227.79 L450.54,227.46 L452.37,227.15 L454.20,226.83 L456.02,226.52 L457.85,226.21 L459.68,225.89 L461.51,225.58 L463.34,225.26 L465.16,224.94 L466.99,224.62 L468.82,224.30 L470.65,223.99 L472.47,223.67 L474.30,223.36 L476.13,223.05 L477.96,222.74 L479.78,222.43 L481.61,222.13 L483.44,221.84 L485.27,221.55 L487.10,221.27 L488.92,220.99 L490.75,220.72 L492.58,220.46 L494.41,220.20 L496.23,219.95 L498.06,219.69 L499.89,219.44 L501.72,219.19 L503.55,218.94 L505.37,218.69 L507.20,218.45 L509.03,218.21 L510.86,217.97 L512.68,217.73 L514.51,217.50 L516.34,217.27 L518.17,217.05 L519.99,216.82 L521.82,216.60 L523.65,216.39 L525.48,216.17 L527.31,215.96 L529.13,215.76 L530.96,215.55 L532.79,215.35 L534.62,215.16 L536.44,214.97 L538.27,214.78 L540.10,214.59" stroke="#d9d000"/>
<path d="M322.60,274.02 L324.43,272.77 L326.26,271.61 L328.08,270.57 L329.91,269.64 L331.74,268.78 L333.57,267.99 L335.39,267.28 L337.22,266.64 L339.05,266.07 L340.88,265.55 L342.71,265.07 L344.53,264.61 L346.36,264.17 L348.19,263.74 L350.02,263.29 L351.84,262.83 L353.67,262.34 L355.50,261.82 L357.33,261.30 L359.15,260.76 L360.98,260.22 L362.81,259.68 L364.64,259.13 L366.47,258.59 L368.29,258.05 L370.12,257.52 L371.95,256.99 L373.78,256.45 L375.60,255.91 L377.43,255.39 L379.26,254.89 L381.09,254.43 L382.92,253.98 L384.74,253.53 L386.57,253.10 L388.40,252.69 L390.23,252.29 L392.05,251.91 L393.88,251.54 L395.71,251.20 L397.54,250.88 L399.36,250.57 L401.19,250.27 L403.02,249.99 L404.85,249.71 L406.68,249.44 L408.50,249.17 L410.33,248.91 L412.16,248.66 L413.99,248.40 L415.81,248.15 L417.64,247.89 L419.47,247.64 L421.30,247.38 L423.13,247.11 L424.95,246.84 L426.78,246.57 L428.61,246.30 L430.44,246.04 L432.26,245.77 L434.09,245.51 L435.92,245.25 L437.75,244.98 L439.57,244.72 L441.40,244.45 L443.23,244.19 L445.06,243.92 L446.89,243.64 L448.71,243.37 L450.54,243.09 L452.37,242.81 L454.20,242.52 L456.02,242.23 L457.85,241.93 L459.68,241.63 L461.51,241.31 L463.34,241.00 L465.16,240.67 L466.99,240.35 L468.82,240.02 L470.65,239.69 L472.47,239.36 L474.30,239.03 L476.13,238.70 L477.96,238.37 L479.78,238.04 L481.61,237.72 L483.44,237.40 L485.27,237.09 L487.10,236.78 L488.92,236.48 L490.75,236.19 L492.58,235.91 L494.41,235.63 L496.23,235.35 L498.06,235.07 L499.89,234.80 L501.72,234.52 L503.55,234.25 L505.37,233.98 L507.20,233.71 L509.03,233.45 L510.86,233.19 L512.68,232.92 L514.51,232.67 L516.34,232.41 L518.17,232.16 L519.99,231.91 L521.82,231.66 L523.65,231.41 L525.48,231.17 L527.31,230.93 L529.13,230.69 L530.96,230.46 L532.79,230.23 L534.62,230.00 L536.44,229.77 L538.27,229.55 L540.10,229.33" stroke="#00ee00"/>
</g>
<rect x="322.6" y="167.0" width="217.5" height="106.30000000000001" fill="none" stroke="#262626" stroke-width="1.1"/>
<text x="337.10" y="285.5" text-anchor="middle" font-size="8.8">30</text>
<text x="366.10" y="285.5" text-anchor="middle" font-size="8.8">40</text>
<text x="395.10" y="285.5" text-anchor="middle" font-size="8.8">50</text>
<text x="424.10" y="285.5" text-anchor="middle" font-size="8.8">60</text>
<text x="453.10" y="285.5" text-anchor="middle" font-size="8.8">70</text>
<text x="482.10" y="285.5" text-anchor="middle" font-size="8.8">80</text>
<text x="511.10" y="285.5" text-anchor="middle" font-size="8.8">90</text>
<text x="540.10" y="285.5" text-anchor="middle" font-size="8.8">100</text>
<text x="318.70000000000005" y="272.07" text-anchor="end" font-size="8.8">0.4</text>
<text x="318.70000000000005" y="247.91" text-anchor="end" font-size="8.8">0.5</text>
<text x="318.70000000000005" y="223.75" text-anchor="end" font-size="8.8">0.6</text>
<text x="318.70000000000005" y="199.59" text-anchor="end" font-size="8.8">0.7</text>
<text x="318.70000000000005" y="175.43" text-anchor="end" font-size="8.8">0.8</text>
<path d="M337.10,273.3 v-2.2 M337.10,167.0 v2.2 M366.10,273.3 v-2.2 M366.10,167.0 v2.2 M395.10,273.3 v-2.2 M395.10,167.0 v2.2 M424.10,273.3 v-2.2 M424.10,167.0 v2.2 M453.10,273.3 v-2.2 M453.10,167.0 v2.2 M482.10,273.3 v-2.2 M482.10,167.0 v2.2 M511.10,273.3 v-2.2 M511.10,167.0 v2.2 M540.10,273.3 v-2.2 M540.10,167.0 v2.2 M322.6,268.47 h2.2 M540.1,268.47 h-2.2 M322.6,244.31 h2.2 M540.1,244.31 h-2.2 M322.6,220.15 h2.2 M540.1,220.15 h-2.2 M322.6,195.99 h2.2 M540.1,195.99 h-2.2 M322.6,171.83 h2.2 M540.1,171.83 h-2.2" stroke="#262626" stroke-width="1" fill="none"/>
<text x="431.35" y="298.90000000000003" text-anchor="middle" font-size="10.3">Years</text>
<text transform="translate(297.6,219.85) rotate(-90)" x="0" y="0" text-anchor="middle" font-size="10.0">Dissolved CO<tspan font-size="8.6" dy="4.5">2</tspan><tspan dy="-4.5" dx="-0.5"> (Mtonnes)</tspan></text>
<text transform="translate(431.35,163.60) scale(1,0.97)" x="0" y="0" text-anchor="middle" font-size="10.0" font-weight="bold" fill="#000">Dissolved CO2: Monitoring Phase</text>
<path d="M485,239.80 h17" stroke="#ff0000" stroke-width="1.8"/>
<text x="502.9" y="242.30" font-size="6.75">CM6:300m</text>
<path d="M485,248.80 h17" stroke="#ff9900" stroke-width="1.8"/>
<text x="502.9" y="251.30" font-size="6.75">CM5:210m</text>
<path d="M485,257.80 h17" stroke="#d9d000" stroke-width="1.8"/>
<text x="502.9" y="260.30" font-size="6.75">CM4:175m</text>
<path d="M485,266.80 h17" stroke="#00ee00" stroke-width="1.8"/>
<text x="502.9" y="269.30" font-size="6.75">FM:150m</text>
</svg></body></html>
